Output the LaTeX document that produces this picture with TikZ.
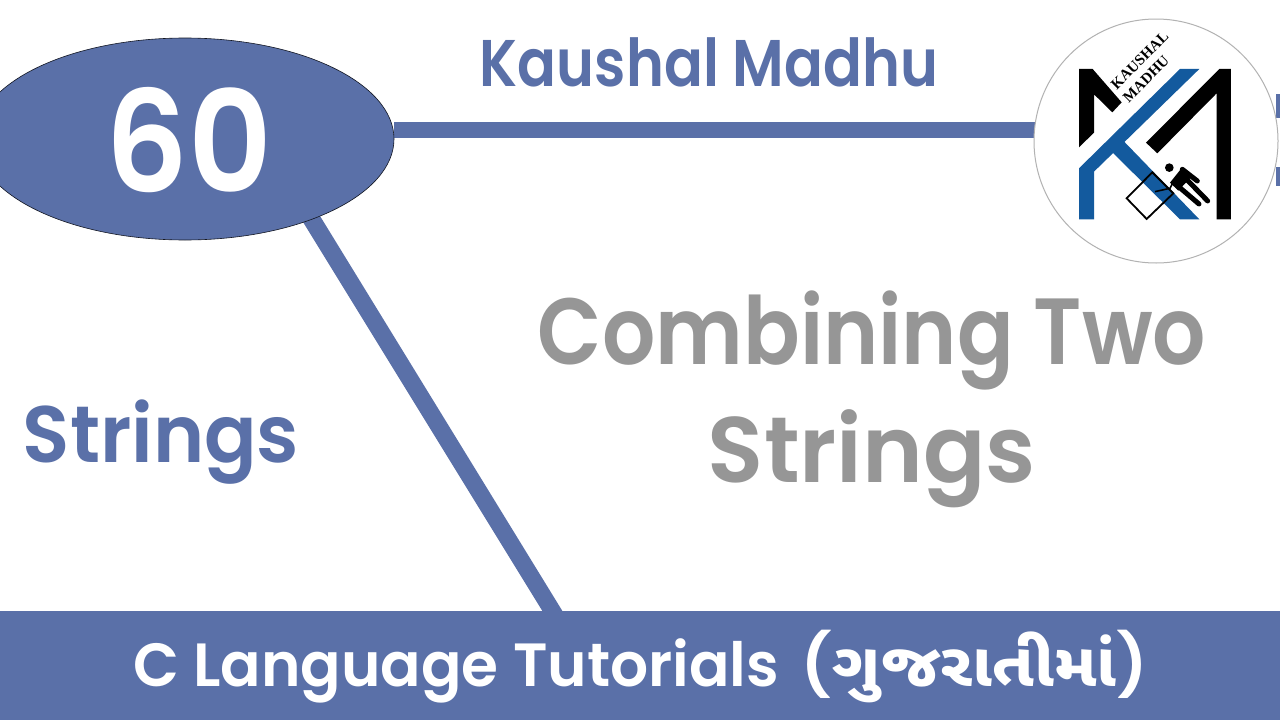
\documentclass[tikz,border=0pt]{standalone}
\usepackage{graphicx}
\usepackage{fontspec}
\usetikzlibrary{shapes.geometric}
\setmainfont{Poppins SemiBold}
\newfontfamily\gujfont[Script=Gujarati]{Noto Sans Gujarati UI}
\newfontfamily\logofont{Liberation Serif}
\definecolor{slate}{HTML}{5A70A8}
\definecolor{greytext}{HTML}{969696}
\definecolor{logoblue}{HTML}{135A9E}
\tikzset{
  big/.style={font=\fontsize{#1}{#1}\selectfont, inner sep=0pt, anchor=center},
  logotext/.style={font=\logofont\bfseries\fontsize{15}{15}\selectfont, rotate=45, inner sep=0pt}
}
\begin{document}
\begin{tikzpicture}[x=1pt,y=-1pt]
\useasboundingbox (0,0) rectangle (1280,720);
\fill[white] (0,0) rectangle (1280,720);
% connectors behind
\coordinate (hl) at (394,130);
\coordinate (hr) at (1040,130);
\draw[slate,line width=16pt] (hl) -- (hr);
\fill[slate] (303,222) -- (320,216) -- (563,612) -- (543,612) -- cycle;
% ellipse
\node[draw=black!80!slate,line width=0.6pt,fill=slate,ellipse,minimum width=418pt,minimum height=202pt,inner sep=0pt] (oval) at (185,139) {};
\fill[slate] (0,611) rectangle (1280,720);
% right fragment
\fill[slate] (1276,94) -- (1280,94) -- (1280,118) -- (1276,118) -- cycle;
\fill[slate] (1276,167) -- (1280,167) -- (1280,186) -- (1276,186) -- cycle;
% logo
\node[circle,draw=black!30,fill=white,line width=1pt,minimum size=244pt,inner sep=0pt] (logo) at (1156,141) {};
\begin{scope}[shift={(1020,0)},x=0.3333pt,y=-0.3333pt]
\fill[black] (177,207) -- (218,207) -- (305,307) -- (277,337) -- (222,283) -- (222,398) -- (177,442) -- cycle;
\fill[black] (598,207) -- (633,207) -- (633,658) -- (590,658) -- (590,280) -- (412,460) -- (378,428) -- cycle;
\fill[logoblue] (480,207) -- (538,207) -- (222,515) -- (222,658) -- (177,658) -- (177,505) -- cycle;
\fill[logoblue] (265,445) -- (300,412) -- (538,658) -- (480,658) -- cycle;
\draw[black,line width=1.8pt] (397,517) -- (460,580) -- (380,657) -- (320,595) -- cycle;
\fill[black] (448,503) circle (13);
\fill[black] (450,548) -- (482,508) -- (510,535) -- (475,572) -- cycle;
\draw[black,line width=1.6pt] (405,575) -- (450,565) -- (465,535);
\draw[black,line width=5pt,line cap=round] (487,508) -- (532,543);
\draw[black,line width=5pt,line cap=round] (492,530) -- (563,603);
\draw[black,line width=5pt,line cap=round] (470,555) -- (537,612);
\node[logotext] (k1) at (359,181) {KAUSHAL};
\node[logotext] (k2) at (378,237) {MADHU};
\end{scope}
% text
\node[big=66,text=slate] (kaushal) at (709,62.5) {\scalebox{0.87}[1]{Kaushal Madhu}};
\node[big=141,text=white] (sixty) at (189,140) {\scalebox{0.92}[1]{60}};
\node[big=80,text=slate] (strings) at (161,442) {\scalebox{0.97}[1]{Strings}};
\node[big=94,text=greytext] (t1) at (872,340.5) {\scalebox{0.89}[1]{Combining Two}};
\node[big=93,text=greytext] (t2) at (872,458.5) {\scalebox{0.99}[1]{Strings}};
\node[big=61,text=white] (foot) at (641,666.5) {\scalebox{0.98}[1]{C Language Tutorials}\hspace{7pt} \scalebox{1.08}[1]{({\gujfont\bfseries ગુજરાતીમાં})}};
\end{tikzpicture}
\end{document}
